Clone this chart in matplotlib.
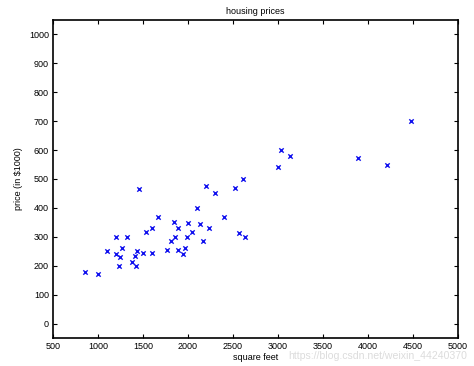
import matplotlib
matplotlib.use('Agg')
import matplotlib.pyplot as plt

# housing data: size (square feet) and price (in $1000)
square_feet = [2104, 1600, 2400, 1416, 3000, 1985, 1534, 1427, 1380, 1494,
               1940, 2000, 1890, 4478, 1268, 2300, 1320, 1236, 2609, 3031,
               1767, 1888, 1604, 1962, 3890, 1100, 1458, 2526, 2200, 2637,
               1839, 1000, 2040, 3137, 1811, 1437, 1239, 2132, 4215, 2162,
               1664, 2238, 2567, 1200, 852, 1852, 1203]
price = [399.9, 329.9, 369.0, 232.0, 539.9, 299.9, 314.9, 199.0, 212.0, 242.5,
         240.0, 347.0, 330.0, 699.9, 259.9, 449.9, 299.9, 199.9, 500.0, 599.0,
         252.9, 255.0, 242.9, 259.9, 573.9, 249.9, 464.5, 469.0, 475.0, 299.9,
         349.9, 169.9, 314.9, 579.9, 285.9, 249.9, 229.9, 345.0, 549.0, 287.0,
         368.5, 329.9, 314.0, 299.0, 179.9, 299.9, 239.5]

x_ticks = list(range(500, 5001, 500))
y_ticks = list(range(0, 1001, 100))

plt.rcParams['font.family'] = ['Liberation Sans', 'DejaVu Sans']

fig = plt.figure(figsize=(4.74, 3.66), dpi=100)
ax = fig.add_axes([0.112, 0.0765, 0.854, 0.869])

ax.scatter(square_feet, price, marker='x', color='#1010ee', s=10, linewidths=1.0)

ax.set_xlim(500, 5000)
ax.set_ylim(-50, 1050)
ax.set_xticks(x_ticks)
ax.set_yticks(y_ticks)
ax.tick_params(direction='in', top=True, right=True, length=3, width=0.8,
               labelsize=6.5, pad=3)
for s in ax.spines.values():
    s.set_linewidth(1.2)

ax.set_title('housing prices', fontsize=6.5, pad=4)
ax.set_xlabel('square feet', fontsize=6.5, labelpad=1)
ax.set_ylabel('price (in $1000)', fontsize=6.5, labelpad=4)

# faint watermark as in the source image
fig.text(0.985, 0.028, 'https://blog.csdn.net/weixin_44240370', ha='right',
         va='center', fontsize=7.6, color='#dcdcdc')

fig.savefig('out.png', dpi=100)
